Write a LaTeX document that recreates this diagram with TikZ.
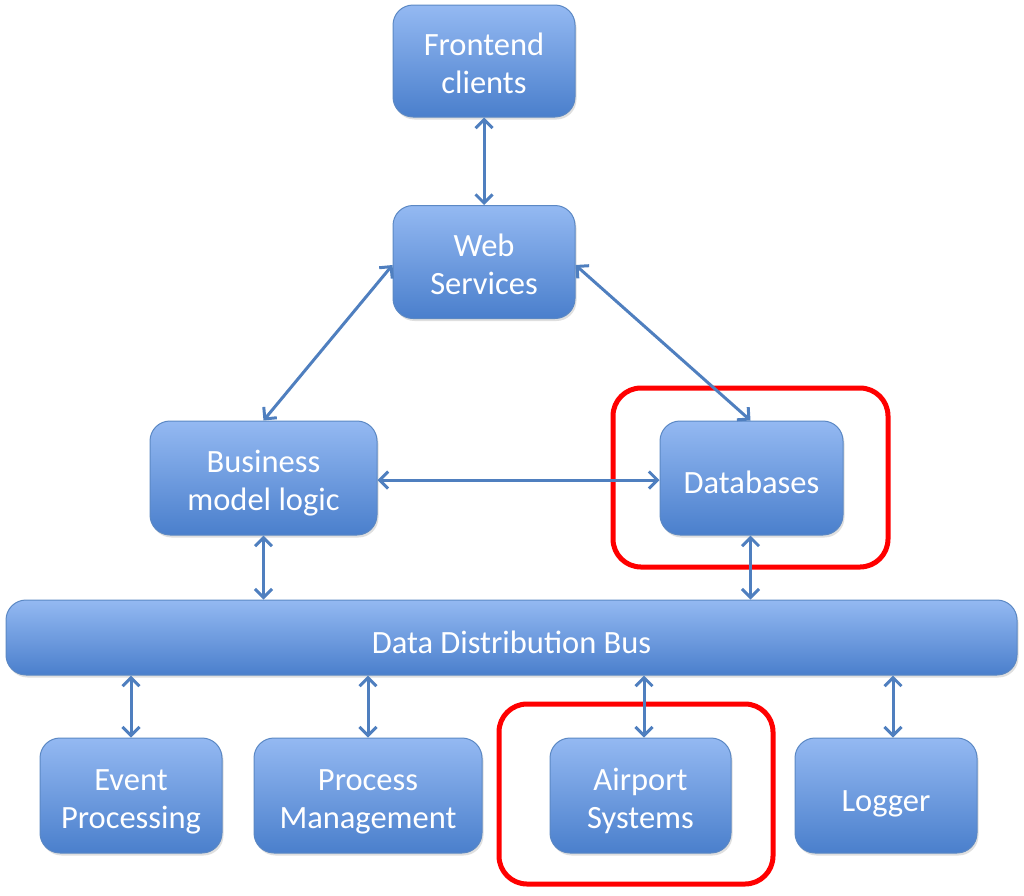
\documentclass[tikz,border=0pt]{standalone}
\usepackage{fontspec}
\setmainfont{Carlito}
\usetikzlibrary{arrows.meta,shadows}
\definecolor{boxtop}{HTML}{94B9F2}
\definecolor{boxbot}{HTML}{4A7FCC}
\definecolor{boxline}{HTML}{5B88C4}
\definecolor{arr}{HTML}{4F7FBF}
\definecolor{hl}{HTML}{FF0000}
\newcommand{\topstrut}{\rule{0pt}{38pt}}
\newcommand{\toptwostrut}{\rule{0pt}{72pt}}
\newcommand{\botstrut}{\rule[-7pt]{0pt}{7pt}}
\tikzset{
  blk/.style={rounded corners=20pt, draw=boxline, line width=1pt,
    top color=boxtop, bottom color=boxbot, text=white, align=center,
    font=\fontsize{32.5}{38}\selectfont, inner sep=0pt,
    execute at begin node=\topstrut, execute at end node=\botstrut,
    drop shadow={opacity=0.25, shadow xshift=1.5pt, shadow yshift=-2.5pt}},
  twoline/.style={execute at begin node=\toptwostrut},
  conn/.style={draw=arr, line width=3pt,
    {Straight Barb[length=8.5pt,width=17pt,line width=3pt]}-{Straight Barb[length=8.5pt,width=17pt,line width=3pt]}},
  hlbox/.style={draw=hl, line width=5pt, rounded corners=28pt}
}
\begin{document}
\begin{tikzpicture}[x=1pt,y=-1pt]
\useasboundingbox (0,0) rectangle (1024,895);
\node[blk, twoline, minimum width=182pt, minimum height=112pt] (fe) at (484,61) {Frontend\\clients};
\node[blk, twoline, minimum width=182pt, minimum height=113pt] (ws) at (484,262) {Web\\Services};
\node[blk, twoline, minimum width=227pt, minimum height=114pt] (bm) at (263.5,478) {Business\\model logic};
\node[blk, minimum width=183pt, minimum height=114pt] (db) at (751.5,478) {Databases};
\node[blk, minimum width=1011pt, minimum height=75pt] (bus) at (511.5,637.5) {Data Distribution Bus};
\node[blk, twoline, minimum width=182pt, minimum height=115pt] (ep) at (131,795.5) {Event\\Processing};
\node[blk, twoline, minimum width=228pt, minimum height=115pt] (pm) at (368,795.5) {Process\\Management};
\node[blk, twoline, minimum width=181pt, minimum height=115pt] (as) at (640.5,795.5) {Airport\\Systems};
\node[blk, minimum width=182pt, minimum height=115pt] (lg) at (886,795.5) {Logger};
\node[hlbox, minimum width=275pt, minimum height=179pt, inner sep=0pt] (hdb) at (750.5,477.5) {};
\node[hlbox, minimum width=274pt, minimum height=180pt, inner sep=0pt] (has) at (636,794) {};
\draw[conn] (fe.south) -- (ws.north);
\draw[conn] ([yshift=-3pt]ws.west) -- (bm.north);
\draw[conn] ([yshift=-3pt]ws.east) -- ([xshift=-1pt]db.north);
\draw[conn] ([yshift=-2pt]bm.east) -- ([yshift=-2pt]db.west);
\draw[conn] (bm.south) -- (bm.south |- bus.north);
\draw[conn] ([xshift=-1pt]db.south) -- ([xshift=-1pt]db.south |- bus.north);
\draw[conn] (bus.south -| ep.north) -- (ep.north);
\draw[conn] (bus.south -| pm.north) -- (pm.north);
\draw[conn] ([xshift=3.5pt]bus.south -| as.north) -- ([xshift=3.5pt]as.north);
\draw[conn] ([xshift=7pt]bus.south -| lg.north) -- ([xshift=7pt]lg.north);
\end{tikzpicture}
\end{document}
